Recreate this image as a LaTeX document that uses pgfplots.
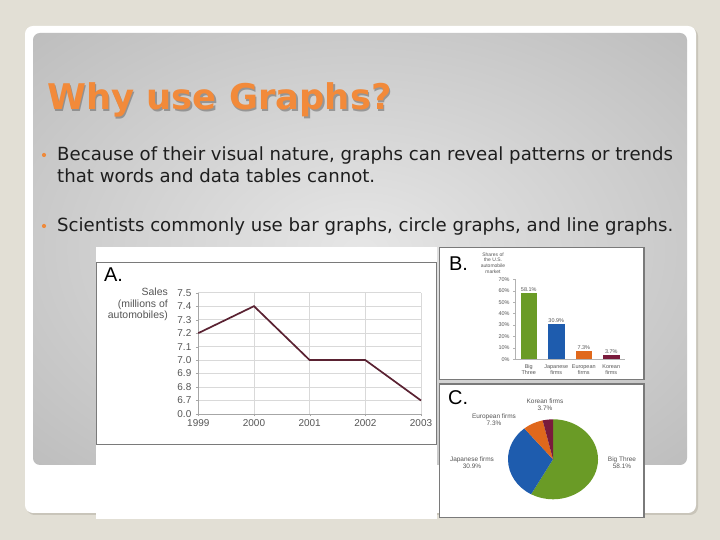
\documentclass[border=0pt]{standalone}
\usepackage{pgfplots}
\pgfplotsset{compat=1.18}
\usepackage{fontspec}
\setmainfont{DejaVu Sans}
\newfontfamily\arial{Liberation Sans}
\definecolor{beige}{HTML}{E2DFD5}
\definecolor{cardshadow}{HTML}{C9C5BA}
\definecolor{slidelight}{HTML}{E6E6E6}
\definecolor{slidedark}{HTML}{A4A4A4}
\definecolor{titleor}{HTML}{F28A3A}
\definecolor{bulletor}{HTML}{EE8A3C}
\definecolor{txt}{HTML}{1E1E1E}
\definecolor{framec}{HTML}{7A7A7A}
\definecolor{lineA}{HTML}{5A2232}
\definecolor{gridA}{HTML}{D9D9D9}
\definecolor{tickA}{HTML}{555555}
\definecolor{cgreen}{HTML}{6A9B26}
\definecolor{cblue}{HTML}{1E5CAE}
\definecolor{corange}{HTML}{E0681C}
\definecolor{cmaroon}{HTML}{7A1B3C}
\pgfdeclareradialshading{slideshade}{\pgfpoint{0bp}{0bp}}{color(0bp)=(slidelight); color(58bp)=(slidedark); color(75bp)=(slidedark)}
\begin{document}
\begin{tikzpicture}[x=1bp,y=1bp]
\useasboundingbox (0,0) rectangle (720,540);
\fill[beige] (0,0) rectangle (720,540);
\fill[cardshadow, rounded corners=8] (26.5,25) rectangle (698,512);
\fill[white, rounded corners=8] (25,27) rectangle (696,514);
\shade[shading=slideshade, rounded corners=7] (33,75) rectangle (687,507);
% title
\node[anchor=base west, inner sep=0, font=\bfseries\fontsize{35.5}{35.5}\selectfont, text=black!60, opacity=0.55] at (48.5,540-111.5) {Why use Graphs?};
\node[anchor=base west, inner sep=0, font=\bfseries\fontsize{35.5}{35.5}\selectfont, text=titleor] at (47,540-110) {Why use Graphs?};
% bullets
\fill[bulletor] (44,540-155) circle (2.1);
\fill[bulletor] (44,540-226) circle (2.1);
\node[anchor=base west, inner sep=0, font=\fontsize{18.2}{18.2}\selectfont, text=txt] at (57,540-161) {Because of their visual nature, graphs can reveal patterns or trends};
\node[anchor=base west, inner sep=0, font=\fontsize{18.2}{18.2}\selectfont, text=txt] at (57,540-183) {that words and data tables cannot.};
\node[anchor=base west, inner sep=0, font=\fontsize{18.2}{18.2}\selectfont, text=txt] at (57,540-232) {Scientists commonly use bar graphs, circle graphs, and line graphs.};
% ---------------- panel A
\fill[white] (96,540-519) rectangle (437,540-247);
\draw[framec, line width=1] (96.5,540-445) rectangle (436,540-262.5);
\node[anchor=base west, inner sep=0, font=\arial\fontsize{20}{20}\selectfont] at (104,540-282) {A.};
\node[anchor=north east, align=right, inner sep=0, font=\arial\fontsize{10.5}{11.8}\selectfont, text=tickA] at (168,540-287.5) {Sales\\(millions of\\automobiles)};
\begin{axis}[at={(198.3bp,126bp)}, anchor=south west, scale only axis,
  width=222.7bp, height=121.3bp,
  xmin=1999, xmax=2003, ymin=6.6, ymax=7.5,
  xtick={1999,2000,2001,2002,2003}, xticklabels={1999,2000,2001,2002,2003},
  ytick={6.6,6.7,6.8,6.9,7.0,7.1,7.2,7.3,7.4,7.5},
  yticklabels={0.0,6.7,6.8,6.9,7.0,7.1,7.2,7.3,7.4,7.5},
  axis lines=left, axis line style={-, draw=gray!70},
  grid=major, grid style={gridA, line width=0.6bp},
  tick style={gray!70}, major tick length=2.5bp, tick align=outside,
  ticklabel style={font=\arial\fontsize{10}{10}\selectfont, text=tickA},
  yticklabel style={xshift=-1bp},
  clip=false]
\addplot[lineA, line width=1.7bp] coordinates {(1999,7.2) (2000,7.4) (2001,7.0) (2002,7.0) (2003,6.7)};
\end{axis}
% ---------------- panel B
\fill[white] (439,540-380) rectangle (645,540-247);
\draw[framec, line width=1.2] (439.6,540-379.4) rectangle (644,540-247.6);
\node[anchor=base west, inner sep=0, font=\arial\fontsize{20}{20}\selectfont] at (449,540-271) {B.};
\node[align=center, inner sep=0, font=\arial\fontsize{5}{5.8}\selectfont, text=tickA] at (493,540-263) {Shares of\\the U.S.\\automobile\\market};
\begin{axis}[at={(515bp,180.7bp)}, anchor=south west, scale only axis,
  width=110bp, height=80bp,
  xmin=-0.5, xmax=3.5, ymin=0, ymax=70,
  /pgf/number format/assume math mode=true,
  axis lines=left, axis line style={-, draw=gray!60},
  ytick={0,10,20,30,40,50,60,70},
  yticklabels={0\%,10\%,20\%,30\%,40\%,50\%,60\%,70\%},
  xtick={0,1,2,3},
  xticklabels={Big\\Three,Japanese\\firms,European\\firms,Korean\\firms},
  xticklabel style={align=center, font=\arial\fontsize{5.5}{6.2}\selectfont, text=tickA},
  yticklabel style={font=\arial\fontsize{5.5}{5.5}\selectfont, text=tickA},
  x tick style={draw=none}, y tick style={gray!60}, major tick length=2bp, tick align=outside,
  nodes near coords={\pgfmathprintnumber[fixed,precision=1,fixed zerofill]{\pgfplotspointmeta}\%},
  every node near coord/.append style={font=\arial\fontsize{5.5}{5.5}\selectfont, text=tickA, inner sep=1.2bp},
  point meta=y,
  clip=false]
\addplot[ybar, bar shift=0pt, bar width=16.5bp, fill=cgreen, draw=none] coordinates {(0,58.1)};
\addplot[ybar, bar shift=0pt, bar width=16.5bp, fill=cblue, draw=none] coordinates {(1,30.9)};
\addplot[ybar, bar shift=0pt, bar width=16.5bp, fill=corange, draw=none] coordinates {(2,7.3)};
\addplot[ybar, bar shift=0pt, bar width=16.5bp, fill=cmaroon, draw=none] coordinates {(3,3.7)};
\end{axis}
% ---------------- panel C
\fill[white] (439,540-518) rectangle (645,540-383);
\draw[framec, line width=1.2] (439.6,540-517.4) rectangle (644,540-384);
\node[anchor=base west, inner sep=0, font=\arial\fontsize{20}{20}\selectfont] at (448,540-405) {C.};
\begin{axis}[at={(508bp,40.7bp)}, anchor=south west, scale only axis,
  width=90bp, height=80bp, xmin=-1, xmax=1, ymin=-1, ymax=1, hide axis, clip=false]
\fill[cgreen] (0,0) -- (0,1) arc[start angle=90, end angle={90-3.6*58.1}, radius=1] -- cycle;
\fill[cblue] (0,0) -- ({cos(90-3.6*58.1)},{sin(90-3.6*58.1)}) arc[start angle={90-3.6*58.1}, end angle={90-3.6*(58.1+30.9)}, radius=1] -- cycle;
\fill[corange] (0,0) -- ({cos(90-3.6*89.0)},{sin(90-3.6*89.0)}) arc[start angle={90-3.6*89.0}, end angle={90-3.6*(89.0+7.3)}, radius=1] -- cycle;
\fill[cmaroon] (0,0) -- ({cos(90-3.6*96.3)},{sin(90-3.6*96.3)}) arc[start angle={90-3.6*96.3}, end angle={90-3.6*(96.3+3.7)}, radius=1] -- cycle;
\end{axis}
\node[align=center, inner sep=0, font=\arial\fontsize{6.5}{7.6}\selectfont, text=tickA] at (545,540-404.5) {Korean firms\\3.7\%};
\node[align=center, inner sep=0, font=\arial\fontsize{6.5}{7.6}\selectfont, text=tickA] at (494,540-419.5) {European firms\\7.3\%};
\node[align=center, inner sep=0, font=\arial\fontsize{6.5}{7.6}\selectfont, text=tickA] at (472,540-462.5) {Japanese firms\\30.9\%};
\node[align=center, inner sep=0, font=\arial\fontsize{6.5}{7.6}\selectfont, text=tickA] at (622,540-462.5) {Big Three\\58.1\%};
\end{tikzpicture}
\end{document}
